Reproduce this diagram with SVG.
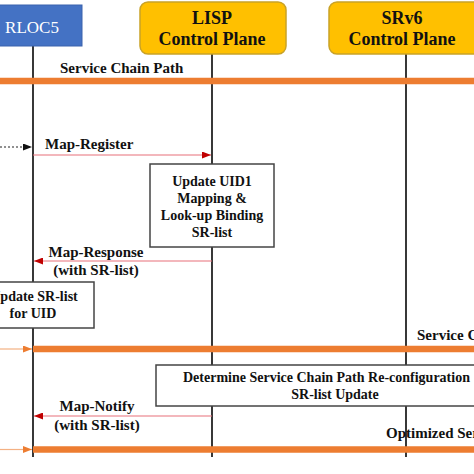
<svg xmlns="http://www.w3.org/2000/svg" width="474" height="474" viewBox="0 0 474 474">
<defs>
<style>
.t{font-family:'Liberation Serif','DejaVu Serif',serif;font-weight:bold;fill:#111;}
.w{font-family:'Liberation Serif','DejaVu Serif',serif;fill:#fff;font-size:17px;text-anchor:middle;}
.h{font-size:18px;text-anchor:middle;}
.m{font-size:15px;}
.b{font-size:14px;}
.c{text-anchor:middle;}
.life{stroke:#222;stroke-width:1.8;fill:none;}
.red{stroke:#E8707A;stroke-width:1.2;fill:none;}
.bar{stroke:#ED7D31;stroke-width:6.5;fill:none;}
.thin{stroke:#F4B183;stroke-width:1.2;fill:none;}
.box{fill:#fff;stroke:#444;stroke-width:1.5;}
.ybox{fill:#FFC000;stroke:#C9A227;stroke-width:1.5;}
</style>
<marker id="ar" markerWidth="9" markerHeight="7" refX="9" refY="3.5" orient="auto" markerUnits="userSpaceOnUse"><path d="M0,0 L9,3.5 L0,7 z" fill="#C00000"/></marker>
<marker id="ak" markerWidth="9" markerHeight="7" refX="9" refY="3.5" orient="auto" markerUnits="userSpaceOnUse"><path d="M0,0 L9,3.5 L0,7 z" fill="#111"/></marker>
<marker id="ao" markerWidth="9" markerHeight="7" refX="9" refY="3.5" orient="auto" markerUnits="userSpaceOnUse"><path d="M0,0 L9,3.5 L0,7 z" fill="#ED7D31"/></marker>
</defs>
<rect width="474" height="474" fill="#fff"/>

<g id="lifelines">
<line class="life" x1="33" y1="46" x2="33" y2="457"/>
<line class="life" x1="212" y1="54" x2="212" y2="457"/>
<line class="life" x1="406" y1="54" x2="406" y2="457"/>
</g>

<g id="connectors">
<line class="bar" x1="0" y1="81" x2="474" y2="81"/>
<line x1="0" y1="147" x2="32" y2="147" stroke="#222" stroke-width="1.2" stroke-dasharray="2,2" marker-end="url(#ak)"/>
<line class="red" x1="33" y1="155" x2="211" y2="155" marker-end="url(#ar)"/>
<line class="red" x1="212" y1="261" x2="34" y2="261" marker-end="url(#ar)"/>
<line class="thin" x1="0" y1="349" x2="32" y2="349" marker-end="url(#ao)"/>
<line class="bar" x1="33" y1="349" x2="474" y2="349"/>
<line class="red" x1="212" y1="416" x2="34" y2="416" marker-end="url(#ar)"/>
<line class="thin" x1="0" y1="449.5" x2="32" y2="449.5" marker-end="url(#ao)"/>
<line class="bar" x1="33" y1="449.5" x2="474" y2="449.5"/>
</g>

<g id="rloc5">
<rect x="-5" y="5" width="87" height="41" fill="#4472C4" stroke="#3A63AD" stroke-width="1"/>
<text class="w" x="32" y="33">RLOC5</text>
</g>

<g id="lisp">
<rect class="ybox" x="140" y="2" width="146" height="52" rx="8"/>
<text class="t h" x="212" y="24">LISP</text>
<text class="t h" x="212" y="45">Control Plane</text>
</g>

<g id="srv6">
<rect class="ybox" x="329" y="2" width="160" height="52" rx="8"/>
<text class="t h" x="402" y="24">SRv6</text>
<text class="t h" x="402" y="45">Control Plane</text>
</g>

<g id="labels">
<text class="t m" x="60" y="73">Service Chain Path</text>
<text class="t m" x="45" y="149">Map-Register</text>
<text class="t m c" x="96" y="257">Map-Response</text>
<text class="t m c" x="96" y="275">(with SR-list)</text>
<text class="t m" x="417" y="340">Service Chain Path</text>
<text class="t m c" x="97" y="411">Map-Notify</text>
<text class="t m c" x="97" y="430">(with SR-list)</text>
<text class="t m" x="386" y="438">Optimized Service Chain Path</text>
</g>

<g id="update-uid1">
<rect class="box" x="150" y="164" width="124" height="83"/>
<text class="t b c" x="212" y="186">Update UID1</text>
<text class="t b c" x="212" y="203">Mapping &amp;</text>
<text class="t b c" x="212" y="220">Look-up Binding</text>
<text class="t b c" x="212" y="237">SR-list</text>
</g>

<g id="update-srlist">
<rect class="box" x="-20" y="282" width="114" height="46"/>
<text class="t b c" x="34" y="301">Update SR-list</text>
<text class="t b c" x="33" y="318">for UID</text>
</g>

<g id="determine">
<rect class="box" x="156" y="365" width="330" height="41"/>
<text class="t b" x="183" y="382">Determine Service Chain Path Re-configuration</text>
<text class="t b c" x="335" y="399">SR-list Update</text>
</g>
</svg>
